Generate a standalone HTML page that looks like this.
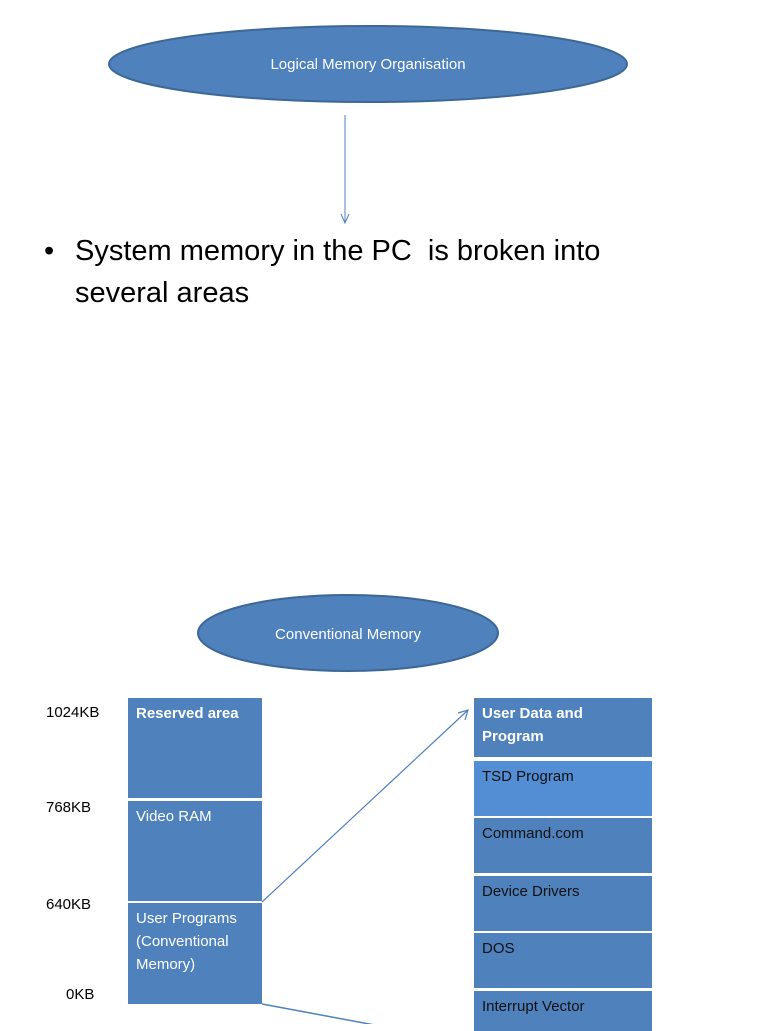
<!DOCTYPE html>
<html><head><style>
body{margin:0;width:768px;height:1024px;background:#fff;position:relative;overflow:hidden;font-family:"Liberation Sans",sans-serif}
.b{position:absolute;background:#4f81bd;color:#fff;font-size:15px;line-height:23px;padding:4px 8px;box-sizing:border-box}
.k{position:absolute;font-size:15px;color:#000}
</style></head><body>
<svg width="768" height="1024" style="position:absolute;left:0;top:0">
<ellipse cx="368" cy="64" rx="259" ry="38" fill="#4f81bd" stroke="#3c6796" stroke-width="2"/>
<text x="368" y="69" fill="#fff" font-size="15" text-anchor="middle" font-family="Liberation Sans">Logical Memory Organisation</text>
<line x1="345" y1="115" x2="345" y2="222" stroke="#4f81bd" stroke-width="1"/>
<path d="M341 214 L345 223 L349 214" fill="none" stroke="#4f81bd"/>
<ellipse cx="348" cy="633" rx="150" ry="38" fill="#4f81bd" stroke="#3c6796" stroke-width="2"/>
<text x="348" y="639" fill="#fff" font-size="15" text-anchor="middle" font-family="Liberation Sans">Conventional Memory</text>
<line x1="262" y1="902" x2="467" y2="711" stroke="#4f81bd" stroke-width="1.2"/>
<path d="M458 713 L468 710 L465 720" fill="none" stroke="#4f81bd" stroke-width="1.2"/>
<line x1="262" y1="1004" x2="380" y2="1026" stroke="#4f81bd" stroke-width="1.5"/>
</svg>
<div style="position:absolute;left:44px;top:230px;font-size:29px;line-height:42px;color:#000">•</div>
<div style="position:absolute;left:75px;top:230px;font-size:29px;line-height:42px;color:#000;width:620px">System memory in the PC&nbsp; is broken into several areas</div>
<div class="k" style="left:46px;top:704px">1024KB</div>
<div class="k" style="left:46px;top:799px">768KB</div>
<div class="k" style="left:46px;top:896px">640KB</div>
<div class="k" style="left:66px;top:986px">0KB</div>
<div class="b" style="left:128px;top:698px;width:134px;height:100px;font-weight:bold">Reserved area</div>
<div class="b" style="left:128px;top:801px;width:134px;height:100px">Video RAM</div>
<div class="b" style="left:128px;top:903px;width:134px;height:101px">User Programs (Conventional Memory)</div>
<div class="b" style="left:474px;top:698px;width:178px;height:59px;font-weight:bold">User Data and Program</div>
<div class="b" style="left:474px;top:761px;width:178px;height:55px;background:#538ed5;color:#111">TSD Program</div>
<div class="b" style="left:474px;top:818px;width:178px;height:55px;color:#111">Command.com</div>
<div class="b" style="left:474px;top:876px;width:178px;height:55px;color:#111">Device Drivers</div>
<div class="b" style="left:474px;top:933px;width:178px;height:55px;color:#111">DOS</div>
<div class="b" style="left:474px;top:991px;width:178px;height:40px;color:#111">Interrupt Vector</div>
</body></html>
